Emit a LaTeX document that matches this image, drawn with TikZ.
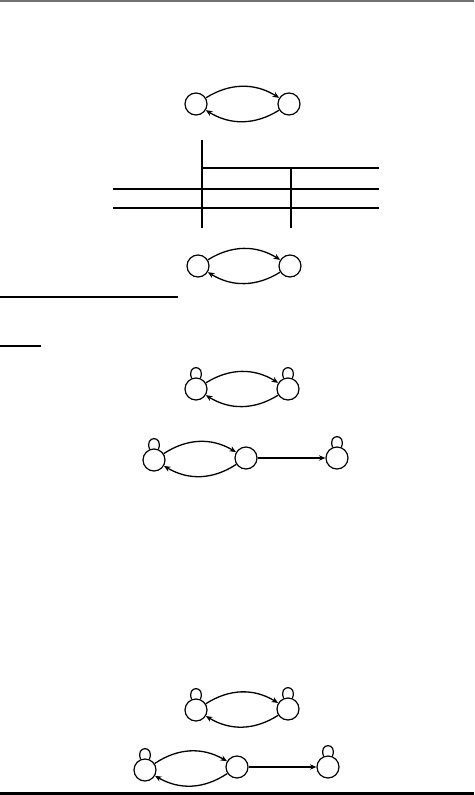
\documentclass[tikz,border=0pt]{standalone}
\usetikzlibrary{arrows.meta}
\begin{document}
\begin{tikzpicture}[x=1pt,y=-1pt,
  st/.style={circle,draw,line width=1.2pt,minimum size=22pt,inner sep=0pt},
  arr/.style={line width=1.3pt,-{Stealth[length=6.5pt,width=5.5pt]}},
  lp/.style={line width=1.2pt,out=112,in=68,looseness=4.5},
  rule/.style={line width=1.3pt}]
\useasboundingbox (0,0) rectangle (474,795);
\draw[line width=2pt,color={rgb,255:red,115;green,115;blue,115}] (0,1) -- (474,1);
% diagram 1
\node[st] (a1) at (196,104) {};
\node[st] (b1) at (289,104) {};
\draw[arr] (a1) to[bend left=32] (b1);
\draw[arr] (b1) to[bend left=32] (a1);
% table lines
\coordinate (v1t) at (202,140); \coordinate (v1b) at (202,228);
\coordinate (v2t) at (291,168); \coordinate (v2b) at (291,228);
\coordinate (h1l) at (202,168); \coordinate (h1r) at (379,168);
\coordinate (h2l) at (113,189); \coordinate (h2r) at (379,189);
\coordinate (h3l) at (113,208); \coordinate (h3r) at (379,208);
\draw[rule] (v1t) -- (v1b);
\draw[rule,line width=1.6pt] (v2t) -- (v2b);
\draw[rule] (h1l) -- (h1r);
\draw[rule] (h2l) -- (h2r);
\draw[rule] (h3l) -- (h3r);
% diagram 2
\node[st] (a2) at (198,266) {};
\node[st] (b2) at (290,266) {};
\draw[arr] (a2) to[bend left=32] (b2);
\draw[arr] (b2) to[bend left=32] (a2);
% rules
\coordinate (r1l) at (0,297); \coordinate (r1r) at (178,297);
\coordinate (r2l) at (0,346); \coordinate (r2r) at (41,346);
\draw[line width=1.5pt] (r1l) -- (r1r);
\draw[line width=1.5pt] (r2l) -- (r2r);
% diagram 3
\node[st] (a3) at (196,389) {};
\node[st] (b3) at (288,389) {};
\draw[arr] (a3) to[bend left=32] (b3);
\draw[arr] (b3) to[bend left=32] (a3);
\draw[lp] (a3) to (a3);
\draw[lp] (b3) to (b3);
% diagram 4
\node[st] (a4) at (154,460) {};
\node[st] (b4) at (246,458) {};
\node[st] (c4) at (337,458) {};
\draw[arr] (a4) to[bend left=32] (b4);
\draw[arr] (b4) to[bend left=32] (a4);
\draw[arr] (b4) -- (c4);
\draw[lp] (a4) to (a4);
\draw[lp] (c4) to (c4);
% diagram 5
\node[st] (a5) at (196,710) {};
\node[st] (b5) at (288,709) {};
\draw[arr] (a5) to[bend left=32] (b5);
\draw[arr] (b5) to[bend left=32] (a5);
\draw[lp] (a5) to (a5);
\draw[lp] (b5) to (b5);
% diagram 6
\node[st] (a6) at (145,770) {};
\node[st] (b6) at (237,767) {};
\node[st] (c6) at (328,767) {};
\draw[arr] (a6) to[bend left=32] (b6);
\draw[arr] (b6) to[bend left=32] (a6);
\draw[arr] (b6) -- (c6);
\draw[lp] (a6) to (a6);
\draw[lp] (c6) to (c6);
\coordinate (bl) at (0,793.5); \coordinate (br) at (474,793.5);
\draw[line width=3pt] (bl) -- (br);
\end{tikzpicture}
\end{document}
